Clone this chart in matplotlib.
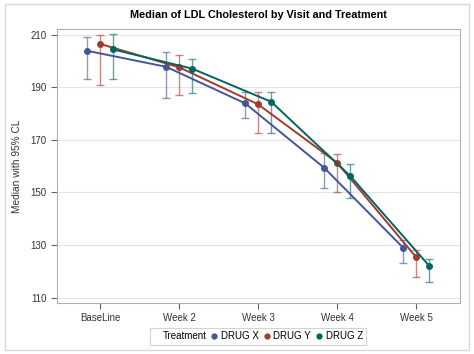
import numpy as np
import matplotlib.pyplot as plt
from matplotlib.lines import Line2D
from matplotlib.patches import Rectangle

visits = ['BaseLine', 'Week 2', 'Week 3', 'Week 4', 'Week 5']
drugs = ['DRUG X', 'DRUG Y', 'DRUG Z']
colors = ['#445694', '#A23A2E', '#01665E']

median_x = [203.9, 197.8, 183.9, 159.4, 129.0]
lower_x = [193.0, 185.8, 178.2, 151.6, 123.1]
upper_x = [209.1, 203.3, 188.2, 165.1, 132.0]

median_y = [206.5, 197.6, 183.5, 161.3, 125.4]
lower_y = [190.8, 187.1, 172.5, 150.2, 117.8]
upper_y = [209.8, 202.2, 188.2, 164.6, 127.9]

median_z = [204.4, 197.1, 184.5, 156.3, 122.1]
lower_z = [193.0, 188.0, 172.7, 148.0, 115.8]
upper_z = [210.3, 200.6, 188.1, 160.7, 124.7]

medians = [median_x, median_y, median_z]
lowers = [lower_x, lower_y, lower_z]
uppers = [upper_x, upper_y, upper_z]
offsets = [-0.165, 0.0, 0.165]

plt.rcParams['font.family'] = ['Liberation Sans', 'DejaVu Sans']

fig = plt.figure(figsize=(4.74, 3.54), dpi=100)
ax = fig.add_axes([0.12, 0.144, 0.851, 0.773])

x = np.arange(len(visits))
for med, lo, hi, off, c, name in zip(medians, lowers, uppers, offsets, colors, drugs):
    med = np.array(med)
    lo = np.array(lo)
    hi = np.array(hi)
    xs = x + off
    ax.errorbar(xs, med, yerr=[med - lo, hi - med], fmt='none', ecolor=c,
                alpha=0.6, elinewidth=1.0, capsize=3, capthick=1.0, zorder=2)
    ax.plot(xs, med, color=c, lw=1.4, marker='o', ms=4, zorder=3, label=name)

ax.set_xlim(-0.55, 4.56)
ax.set_ylim(107.9, 212.05)
ax.set_xticks(x)
ax.set_xticklabels(visits)
ax.set_yticks([110, 130, 150, 170, 190, 210])
ax.grid(axis='y', color='#e4e4e4', lw=0.8)
ax.set_axisbelow(True)
for s in ax.spines.values():
    s.set_color('#b0b0b0')
ax.tick_params(colors='#606060', labelcolor='#333333', labelsize=7, length=4)
ax.set_ylabel('Median with 95% CL', fontsize=7.3, color='#333333', labelpad=6)
ax.set_title('Median of LDL Cholesterol by Visit and Treatment',
             fontsize=7.8, fontweight='bold', pad=8)

handles = [Line2D([], [], ls='none')]
handles += [Line2D([], [], ls='none', marker='o', ms=3.5, color=c) for c in colors]
labels = ['Treatment'] + drugs
leg = fig.legend(handles, labels, ncol=4, loc='center', bbox_to_anchor=(0.545, 0.05),
                 fontsize=7, frameon=True, fancybox=False, handlelength=0.4,
                 handletextpad=0.5, columnspacing=0.6, borderpad=0.35)
leg.get_frame().set_edgecolor('#c8c8c8')
leg.get_frame().set_linewidth(0.8)

fig.patches.append(Rectangle((0.011, 0.011), 0.978, 0.978, transform=fig.transFigure,
                             fill=False, edgecolor='#d8d8d8', lw=1.0))

fig.savefig('out.png', dpi=100)
